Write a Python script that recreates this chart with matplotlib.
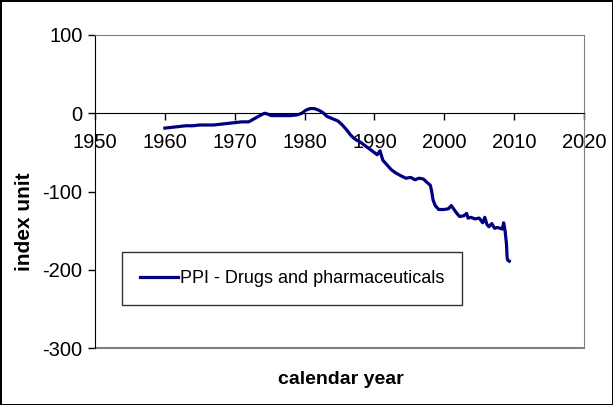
import matplotlib.pyplot as plt

plt.rcParams['font.family'] = ['Liberation Sans', 'DejaVu Sans']
plt.rcParams['axes.unicode_minus'] = False

# PPI - Drugs and pharmaceuticals
years = [1960.0, 1961.0, 1962.0, 1963.0, 1964.0, 1965.0, 1966.0, 1967.0, 1968.0,
         1969.0, 1970.0, 1971.0, 1972.0, 1972.6, 1973.2, 1973.8, 1974.3, 1974.7,
         1975.2, 1976.0, 1977.0, 1978.0, 1979.0, 1979.6, 1980.2, 1980.8, 1981.4,
         1982.0, 1982.6, 1983.2, 1984.0, 1984.8, 1985.4, 1986.0, 1986.6, 1987.2,
         1988.0, 1988.6, 1989.2, 1989.8, 1990.4, 1990.8, 1991.2, 1991.8, 1992.4,
         1993.0, 1993.8, 1994.5, 1995.2, 1995.8, 1996.4, 1997.0, 1997.6, 1998.0,
         1998.2, 1998.4, 1998.7, 1999.2, 2000.0, 2000.6, 2001.0, 2001.4, 2001.8,
         2002.2, 2002.8, 2003.2, 2003.4, 2003.8, 2004.4, 2005.0, 2005.5, 2005.8,
         2006.1, 2006.4, 2006.8, 2007.2, 2007.6, 2008.0, 2008.3, 2008.5, 2008.7,
         2008.9, 2009.0, 2009.1, 2009.3]
values = [-19, -18, -17, -16, -16, -15, -15, -15, -14,
          -13, -12, -11, -11, -8, -5, -2, 0, -1,
          -3, -3, -3, -3, -2, 0, 4, 6, 6,
          4, 1, -4, -7, -10, -15, -21, -28, -33,
          -37, -41, -45, -49, -53, -48, -60, -66, -72,
          -76, -80, -83, -82, -85, -83, -84, -89, -92,
          -100, -111, -118, -123, -123, -122, -118, -123, -128,
          -132, -131, -128, -134, -133, -135, -134, -140, -133,
          -142, -145, -141, -147, -146, -147, -148, -140, -150,
          -167, -185, -188, -189]

xticks = [1950, 1960, 1970, 1980, 1990, 2000, 2010, 2020]
yticks = [100, 0, -100, -200, -300]

fig = plt.figure(figsize=(6.13, 4.05), dpi=100)
fig.patch.set_edgecolor('black')
fig.patch.set_linewidth(2)
ax = fig.add_axes([95 / 613, 57 / 405, 489 / 613, 313 / 405])

ax.plot(years, values, color='#000080', lw=2.3, label='PPI - Drugs and pharmaceuticals',
        solid_joinstyle='round')

ax.set_xlim(1950, 2020)
ax.set_ylim(-300, 100)
ax.set_xticks(xticks)
ax.set_yticks(yticks)
ax.tick_params(axis='both', labelsize=14.5, direction='out', length=5, width=1)
ax.tick_params(axis='x', pad=9)
ax.tick_params(axis='y', pad=4)

ax.spines['bottom'].set_position(('data', 0))
ax.spines['bottom'].set_color('black')
ax.spines['left'].set_color('black')
ax.spines['top'].set_color('#808080')
ax.spines['right'].set_color('#808080')
ax.axhline(-300, color='#808080', lw=1.5, clip_on=False)

ax.set_ylabel('index unit', fontsize=15, fontweight='bold')
ax.yaxis.set_label_coords(-61 / 489, (348 - 222) / 313)
fig.text(341 / 613, 25 / 405, 'calendar year', fontsize=14, fontweight='bold',
         ha='center', va='center')

leg = ax.legend(loc='upper left', bbox_to_anchor=(27 / 489, 96 / 313), fontsize=13,
                frameon=True, fancybox=False, handlelength=2.1, handletextpad=0.1,
                borderpad=1.0, borderaxespad=0)
leg.get_frame().set_edgecolor('black')
leg.get_frame().set_linewidth(1)

fig.savefig('out.png', dpi=100)
